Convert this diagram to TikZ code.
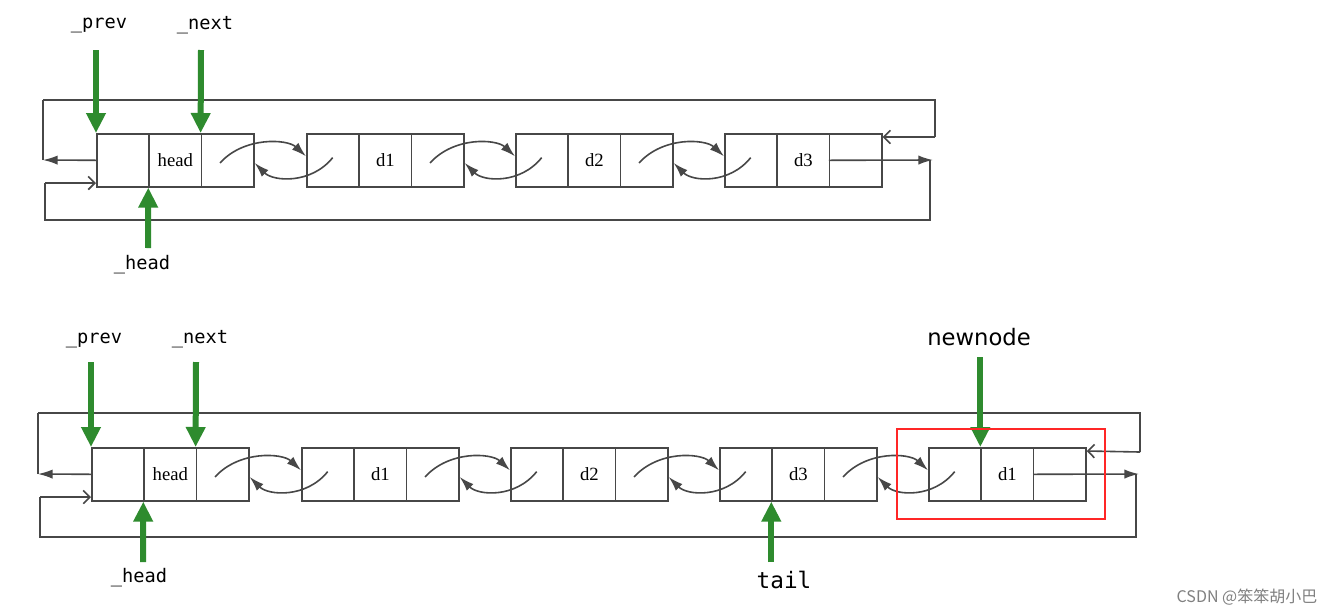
\documentclass[tikz,border=0pt]{standalone}
\usepackage{fontspec}
\setmainfont{Liberation Serif}
\newfontfamily\monof{DejaVu Sans Mono}
\newfontfamily\sansf{DejaVu Sans}
\newfontfamily\cjkf{Noto Sans CJK SC}
\usetikzlibrary{arrows.meta}
\definecolor{ln}{HTML}{474747}
\definecolor{gr}{HTML}{2E8B2E}
\tikzset{x=0.75pt,y=-0.75pt,
 cell/.style={draw=ln,line width=1.2pt,minimum width=52.5*0.75pt,minimum height=53*0.75pt,inner sep=0pt,font=\fontsize{14}{14}\selectfont},
 wire/.style={draw=ln,line width=1.2pt},
 fa/.style={wire,-{Latex[length=11pt,width=7pt]}},
 oa/.style={wire,-{Straight Barb[length=5pt,width=10pt]}},
 garrow/.style={draw=gr,line width=4.5pt,-{Triangle[length=15pt,width=14pt]}},
 lab/.style={font=\monof\fontsize{14}{14}\selectfont}}
\begin{document}
\begin{tikzpicture}
\useasboundingbox[fill=white] (0,0) rectangle (1333,615);
% ---------- top row
\foreach \i/\x/\t in {1/96/head,2/306/d1,3/515/d2,4/724/d3}{
  \node[cell,anchor=north west] (ta\i) at (\x,133) {};
  \node[cell,anchor=north west] (tb\i) at (\x+52.3,133) {\t};
  \node[cell,anchor=north west] (tc\i) at (\x+104.6,133) {};
}
\foreach \i/\j in {1/2,2/3,3/4}{
  \draw[fa] ([xshift=-26pt,yshift=-2pt]tc\i.east) .. controls ([xshift=-8pt,yshift=18pt]tc\i.east) and ([xshift=-14pt,yshift=16pt]ta\j.west) .. ([yshift=3pt]ta\j.west);
  \draw[fa] ([xshift=20pt,yshift=2pt]ta\j.west) .. controls ([xshift=4pt,yshift=-18pt]ta\j.west) and ([xshift=14pt,yshift=-16pt]tc\i.east) .. ([yshift=-2pt]tc\i.east);
}
\coordinate (tL) at (43,160);
\draw[wire] (43,100) -- (935,100) -- (935,137);
\draw[oa] (935,137) -- ([yshift=-3pt]tc4.north east);
\draw[fa] ([xshift=-20pt]ta1.center) -- (tL);
\draw[wire] (tL) -- (43,100);
\draw[fa] ([xshift=-20pt]tc4.center) -- (933,160);
\draw[wire] (930,160) -- (930,220) -- (45,220) -- (45,183);
\draw[oa] (45,183) -- (ta1.west |- 0,183);
\draw[garrow] (96,50) -- (ta1.north west);
\draw[garrow] (201,50) -- (tc1.north west);
\draw[garrow] (148,248) -- (tb1.south west);
\node[lab] (p1) at (99,25) {\_prev};
\node[lab] (n1) at (205,25) {\_next};
\node[lab] (h1) at (142,265) {\_head};
% ---------- bottom row
\foreach \i/\x/\t in {1/91/head,2/301/d1,3/510/d2,4/719/d3,5/928/d1}{
  \node[cell,anchor=north west] (ba\i) at (\x,447) {};
  \node[cell,anchor=north west] (bb\i) at (\x+52.3,447) {\t};
  \node[cell,anchor=north west] (bc\i) at (\x+104.6,447) {};
}
\foreach \i/\j in {1/2,2/3,3/4,4/5}{
  \draw[fa] ([xshift=-26pt,yshift=-2pt]bc\i.east) .. controls ([xshift=-8pt,yshift=18pt]bc\i.east) and ([xshift=-14pt,yshift=16pt]ba\j.west) .. ([yshift=3pt]ba\j.west);
  \draw[fa] ([xshift=20pt,yshift=2pt]ba\j.west) .. controls ([xshift=4pt,yshift=-18pt]ba\j.west) and ([xshift=14pt,yshift=-16pt]bc\i.east) .. ([yshift=-2pt]bc\i.east);
}
\coordinate (bL) at (38,474);
\draw[wire] (38,413) -- (1140,413) -- (1140,452);
\draw[oa] (1140,452) -- ([yshift=-3pt]bc5.north east);
\draw[fa] ([xshift=-20pt]ba1.center) -- (bL);
\draw[wire] (bL) -- (38,413);
\draw[fa] ([xshift=-20pt]bc5.center) -- (1139,474);
\draw[wire] (1136,474) -- (1136,537) -- (40,537) -- (40,497);
\draw[oa] (40,497) -- (ba1.west |- 0,497);
\draw[garrow] (91,362) -- (ba1.north west);
\draw[garrow] (196,362) -- (bc1.north west);
\draw[garrow] (143,562) -- (bb1.south west);
\draw[garrow] (bb5.north west |- 0,357) -- (bb5.north west);
\draw[garrow] (bb4.south west |- 0,562) -- (bb4.south west);
\node[lab] (p2) at (94,340) {\_prev};
\node[lab] (n2) at (200,339) {\_next};
\node[lab] (h2) at (139,578) {\_head};
\node[font=\sansf\fontsize{17}{17}\selectfont] (nn) at (979,337) {newnode};
\node[font=\monof\fontsize{17}{17}\selectfont] (tl) at (784,580) {tail};
\draw[red!85!white,line width=2pt] (897,429) rectangle (1105,519);
\node[font=\cjkf\fontsize{12}{12}\selectfont,text=gray,anchor=east] (wm) at (1322,597) {CSDN @笨笨胡小巴};
\end{tikzpicture}
\end{document}
